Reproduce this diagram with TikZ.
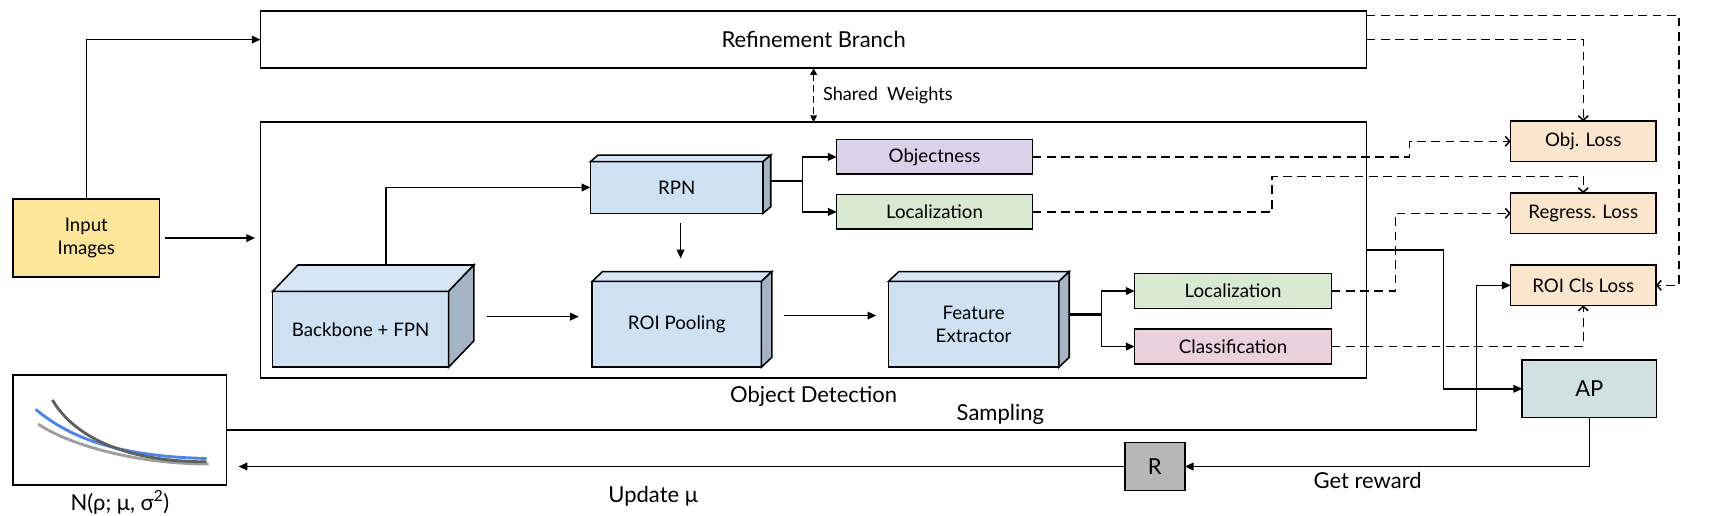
\documentclass[tikz,border=0pt]{standalone}
\usepackage{fontspec}
\setmainfont{Lato}
\usetikzlibrary{arrows.meta,positioning}

\definecolor{inyellow}{HTML}{FFE599}
\definecolor{cubefront}{HTML}{CFE2F3}
\definecolor{cubetop}{HTML}{D6E6F5}
\definecolor{cubeside}{HTML}{A4B4C4}
\definecolor{objpurple}{HTML}{D9D2E9}
\definecolor{locgreen}{HTML}{D9EAD3}
\definecolor{clspink}{HTML}{EAD1DC}
\definecolor{losspeach}{HTML}{FCE5CD}
\definecolor{apblue}{HTML}{D0E0E3}
\definecolor{rgray}{HTML}{B7B7B7}
\definecolor{curveblue}{HTML}{4A86E8}
\definecolor{curvedark}{HTML}{5F5F5F}
\definecolor{curvelight}{HTML}{9E9E9E}

\tikzset{
  blk/.style={draw, line width=1.4pt, inner sep=0pt, outer sep=0pt, align=center,
    font=\fontsize{17}{20.5}\selectfont},
  cubeblk/.style={blk, fill=cubefront},
  head/.style={blk, minimum width=178pt, minimum height=31.5pt},
  loss/.style={blk, fill=losspeach, minimum width=132pt, minimum height=36.5pt},
  lbl/.style={font=\fontsize{20}{24}\selectfont, inner sep=2pt},
  arr/.style={line width=1.3pt, -{Triangle[length=8pt,width=7pt]}},
  darr/.style={line width=1.4pt, dash pattern=on 8pt off 5pt, -{Straight Barb[length=4pt,width=9pt]}},
  sarr/.style={line width=1.3pt, dash pattern=on 6pt off 4pt,
    {Triangle[length=6pt,width=6pt]}-{Triangle[length=6pt,width=6pt]}},
  gcurve/.style={line width=2.6pt}
}

% top and side face of a block, #2 = depth to the right, #3 = depth upwards
\newcommand{\cubedepth}[3]{%
  \draw[line width=1.4pt, fill=cubetop] (#1.north west) -- ++(#2,-#3)
    -- ([shift={(#2,-#3)}]#1.north east) -- (#1.north east) -- cycle;
  \draw[line width=1.4pt, fill=cubeside] (#1.north east) -- ++(#2,-#3)
    -- ([shift={(#2,-#3)}]#1.south east) -- (#1.south east) -- cycle;}

\begin{document}
\begin{tikzpicture}[x=1pt, y=-1pt]
\useasboundingbox (0,0) rectangle (1568,469);

%Input and the two branches
\node[blk, fill=inyellow, minimum width=133pt, minimum height=71pt] (input) at (78.5,216.5) {Input\\Images};
\node[blk, font=\fontsize{20}{24}\selectfont, minimum width=1006pt, minimum height=52pt] (refine) at (740,36) {Refinement Branch};
\node[blk, minimum width=1006pt, minimum height=233pt,
  label={[lbl, yshift=-5pt]below:Object Detection}] (objdet) at (740,227.5) {};
\draw[arr] (input.north) |- (refine.west);
\draw[arr, shorten <=5pt, shorten >=5pt] (input.east) -- (input.east -| objdet.west);
\draw[sarr] (refine.south) -- (objdet.north)
  node[midway, right=6pt, lbl, font=\fontsize{16.5}{20}\selectfont] {Shared\ \ Weights};

%Detector blocks
\node[cubeblk, minimum width=160pt, minimum height=69pt] (bb) at (328,299.5) {Backbone + FPN};
\cubedepth{bb}{23}{24}
\node[cubeblk, minimum width=157pt, minimum height=47pt] (rpn) at (615.5,170.5) {RPN};
\cubedepth{rpn}{7}{6}
\node[cubeblk, minimum width=154pt, minimum height=78pt] (roi) at (615.5,295) {ROI Pooling};
\cubedepth{roi}{9.5}{9}
\node[cubeblk, minimum width=155pt, minimum height=78pt] (feat) at (885.5,295) {Feature\\Extractor};
\cubedepth{feat}{9.5}{9}

\node[head, fill=objpurple] (objness) at (850,142.7) {Objectness};
\node[head, fill=locgreen] (rpnloc) at (850,192.7) {Localization};
\node[head, fill=locgreen, minimum width=179pt] (featloc) at (1121.5,264.7) {Localization};
\node[head, fill=clspink, minimum width=179pt] (featcls) at (1121.5,315.2) {Classification};

\draw[arr] ([xshift=23pt,yshift=24pt]bb.north) |- (rpn.west);
\draw[arr, shorten <=9pt, shorten >=21pt] ([xshift=3.5pt]rpn.south) -- ([xshift=3.5pt]roi.north);
\coordinate (bbout) at ([xshift=35pt,yshift=11.5pt]bb.east);
\draw[arr, shorten >=12pt] (bbout) -- (bbout -| roi.west);
\coordinate (roiout) at ([xshift=21pt,yshift=8pt]roi.east);
\draw[arr, shorten >=11pt] (roiout) -- (roiout -| feat.west);

\coordinate (rpnj) at ([xshift=36pt,yshift=6pt]rpn.east);
\draw[line width=2.2pt] ([xshift=7pt,yshift=6pt]rpn.east) -- (rpnj);
\draw[arr] (rpnj) |- (objness.west);
\draw[arr] (rpnj) |- (rpnloc.west);
\coordinate (featj) at ([xshift=39pt,yshift=9pt]feat.east);
\draw[line width=2.2pt] ([xshift=9.5pt,yshift=9pt]feat.east) -- (featj);
\draw[arr] (featj) |- (featloc.west);
\draw[arr] (featj) |- (featcls.west);

%Losses, AP and reward
\node[loss] (objloss) at (1440,128.5) {Obj. Loss};
\node[loss] (regloss) at (1440,194) {Regress. Loss};
\node[loss] (clsloss) at (1440,259.5) {ROI Cls Loss};
\node[blk, fill=apblue, font=\fontsize{20}{24}\selectfont, minimum width=122pt, minimum height=52pt] (ap) at (1445.5,353.6) {AP};
\node[blk, fill=rgray, font=\fontsize{20}{24}\selectfont, minimum width=54.6pt, minimum height=44pt] (rbox) at (1050.3,424.3) {R};

%Sampling distribution
\node[blk, minimum width=194pt, minimum height=100pt,
  label={[lbl, yshift=-3pt]below:N(ρ; μ, σ\textsuperscript{2})}] (dist) at (109,391) {};
\draw[gcurve, curvelight] (34.8,385.7) .. controls (60,403) and (120,422) .. (189.7,422);
\draw[gcurve, curveblue] (32.4,372.3) .. controls (60,395) and (100,415) .. (188,417);
\draw[gcurve, curvedark] (47.7,363.8) .. controls (60,385) and (95,420) .. (188,420);

%Dashed loss paths
\draw[darr] ([yshift=-4pt]refine.north east) -- ++(284,0) |- (clsloss.east);
\draw[darr] (refine.east) -| (objloss.north);
\draw[darr] (objness.east) -- ++(343,0) |- (objloss.west);
\draw[darr] (rpnloc.east) -- ++(218,0) -- ++(0,-32) -| (regloss.north);
\draw[darr] (featloc.east) -- ++(58,0) |- (regloss.west);
\draw[darr] (featcls.east) -| (clsloss.south);

%Solid paths
\draw[arr] (objdet.east) -- ++(70,0) |- (ap.west);
\draw[arr] (dist.east) -- ++(1137,0) node[lbl, pos=0.619, above=2pt] {Sampling} |- (clsloss.west);
\draw[arr] (ap.south) |- (rbox.east) node[lbl, pos=0.774, below=3pt] {Get reward};
\draw[arr, shorten >=11pt] (rbox.west) -- (rbox.west -| dist.east)
  node[lbl, pos=0.525, below=15pt] {Update μ};
\end{tikzpicture}
\end{document}
